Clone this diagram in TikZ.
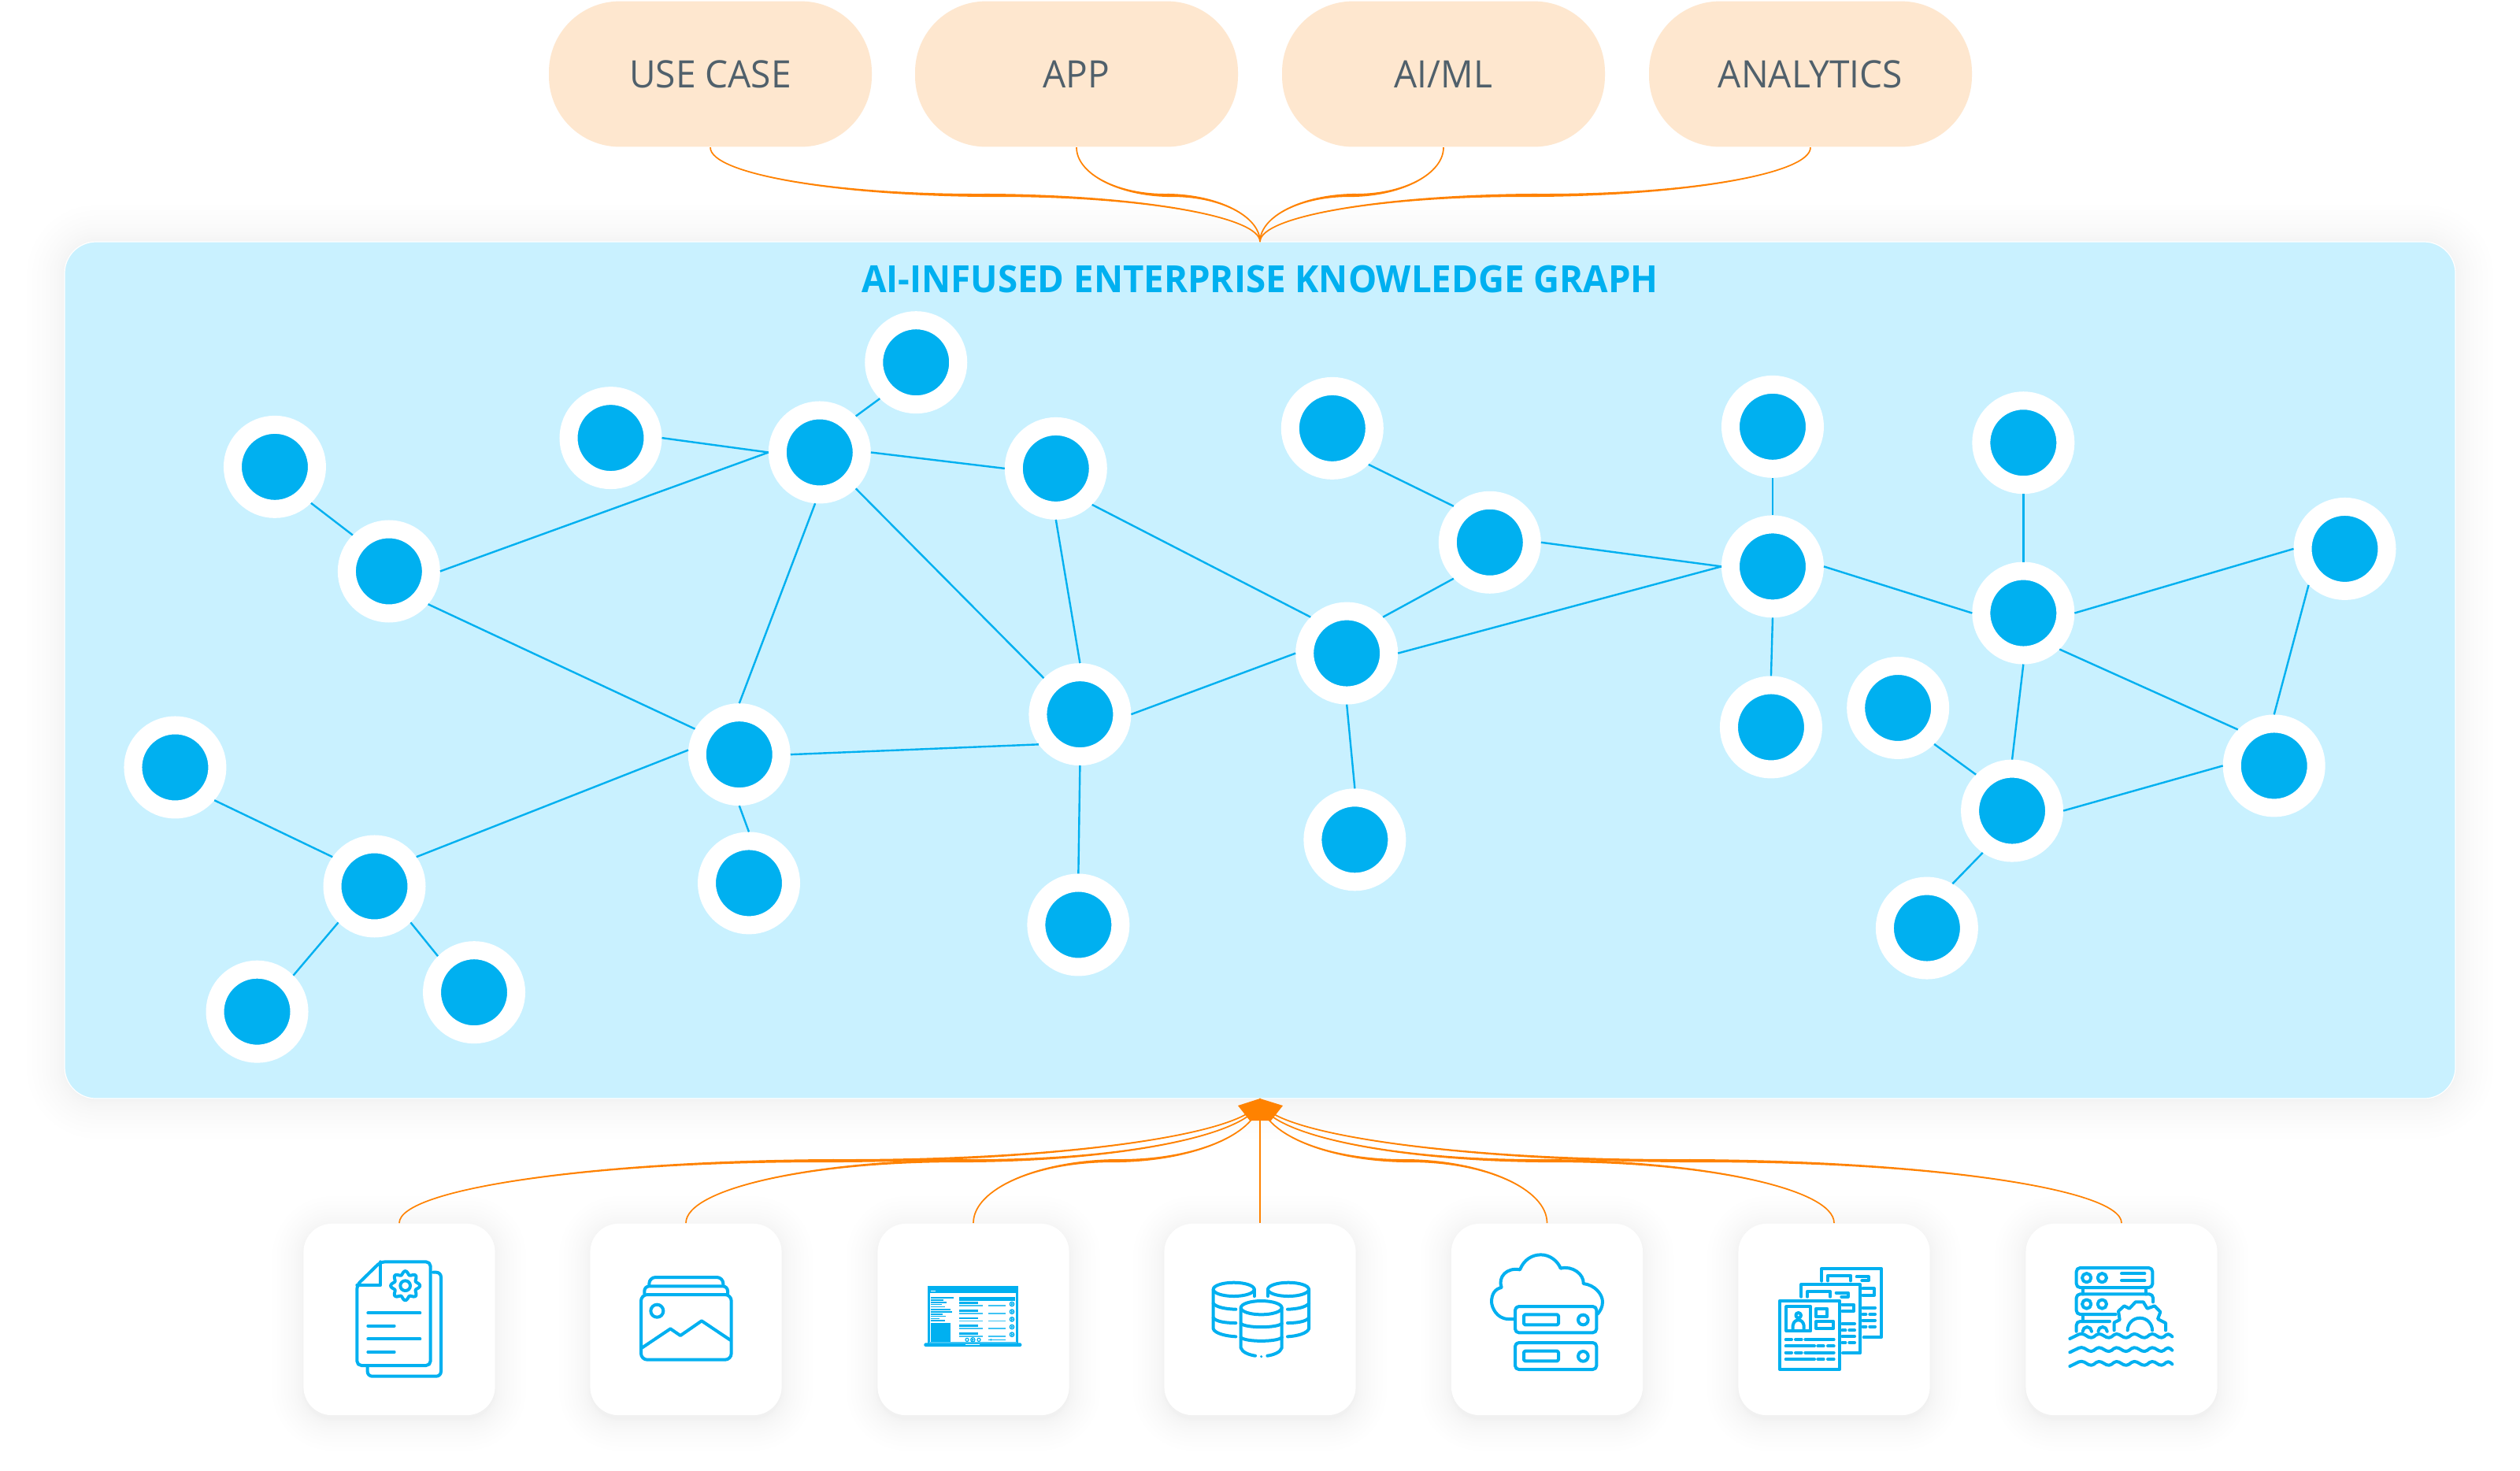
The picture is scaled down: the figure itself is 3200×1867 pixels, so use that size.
\documentclass[tikz,border=0pt]{standalone}
\usepackage{fontspec}
\setmainfont[FakeStretch=0.96]{Open Sans}
\usetikzlibrary{calc}
\definecolor{kblue}{HTML}{00B0F0}
\definecolor{kpanel}{HTML}{C9F1FF}
\definecolor{kpeach}{HTML}{FEE7CF}
\definecolor{korange}{HTML}{FF8200}
\definecolor{ktext}{HTML}{50606B}
\definecolor{klight}{HTML}{40C4F4}
\tikzset{
  pill/.style={rectangle,rounded corners=22.5pt,fill=kpeach,minimum width=102.5pt,minimum height=46.2pt,inner sep=0pt,text=ktext,font=\fontsize{12}{14}\selectfont},
  card/.style={rectangle,rounded corners=9pt,fill=white,minimum width=60.8pt,minimum height=60.8pt,inner sep=0pt},
  gnode/.style={circle,fill=kblue,draw=white,line width=5.75pt,minimum size=26.75pt,inner sep=0pt},
  gedge/.style={draw=kblue,line width=0.6pt},
  conn/.style={draw=korange,fill=korange,line width=0.42pt},
  icon/.style={draw=kblue,line width=1pt,line cap=round,line join=round},
}
% soft shadow: x1,y1,x2,y2,radius(pt),spread,offset
\newcommand\softshadow[7]{%
  \foreach \i in {1,...,14}{%
    \pgfmathsetmacro\dd{#6*(\i/14)^2}%
    \pgfmathsetmacro\rr{#5+\dd*0.25}%
    \fill[black,opacity=0.004,rounded corners=\rr pt]
      ({#1-\dd},{#2-\dd+#7}) rectangle ({#3+\dd},{#4+\dd+#7});
  }}
% tapered connector: start, middle, end
\newcommand\swoop[3]{%
  \path[conn] (#1)
    .. controls ($(#1)!.55!(#1|-#2)$) and ($(#2)!.55!(#1|-#2)$) .. ([yshift=.3pt]#2)
    .. controls ($(#2)!.55!(#3|-#2)$) and ($(#3)!.55!(#3|-#2)$) .. (#3)
    .. controls ($(#3)!.55!(#3|-#2)$) and ($(#2)!.55!(#3|-#2)$) .. ([yshift=-.3pt]#2)
    .. controls ($(#2)!.55!(#1|-#2)$) and ($(#1)!.55!(#1|-#2)$) .. (#1) -- cycle;}
\begin{document}
\begin{tikzpicture}[x=0.25pt,y=-0.25pt]
\useasboundingbox (0,0) rectangle (3200,1867);
\fill[white] (0,0) rectangle (3200,1867);

% shadows
\softshadow{84}{308}{3116}{1394}{10}{50}{2}
\foreach \cx in {507,871,1236,1600,1964.5,2329,2694}{%
  \softshadow{\cx-121}{1554}{\cx+121}{1797}{9}{40}{5}
}

% panel
\node[rectangle,rounded corners=10pt,fill=kpanel,draw=white,line width=0.3pt,minimum width=759pt,minimum height=272pt,inner sep=0pt] (panel) at (1600,851) {};
\node[text=kblue,font=\fontsize{11.88}{14}\selectfont\bfseries] (title) at (1600,354) {AI-INFUSED ENTERPRISE KNOWLEDGE GRAPH};

% top pills
\node[pill] (uc) at (902,94) {USE CASE};
\node[pill] (app) at (1367,94) {APP};
\node[pill] (ai) at (1833,94) {AI/ML};
\node[pill] (an) at (2299,94) {ANALYTICS};

% cards
\foreach \nm/\cx in {c1/507,c2/871,c3/1236,c4/1600,c5/1964.5,c6/2329,c7/2694}{
  \node[card] (\nm) at (\cx,1675.5) {};
}

% connectors
\coordinate (tophub) at (1600,307);
\coordinate (m1) at (1254,248);
\coordinate (m2) at (1484,248);
\coordinate (m3) at (1718,248);
\coordinate (m4) at (1948,248);
\swoop{uc.south}{m1}{tophub}
\swoop{app.south}{m2}{tophub}
\swoop{ai.south}{m3}{tophub}
\swoop{an.south}{m4}{tophub}

\coordinate (hub) at (1600,1395);
\coordinate (b1) at (1058,1474);
\coordinate (b2) at (1227,1474);
\coordinate (b3) at (1418,1474);
\coordinate (b5) at (1786,1474);
\coordinate (b6) at (1962,1474);
\coordinate (b7) at (2146,1474);
\swoop{c1.north}{b1}{hub}
\swoop{c2.north}{b2}{hub}
\swoop{c3.north}{b3}{hub}
\draw[korange,line width=0.5pt] (c4.north) -- (hub);
\swoop{c5.north}{b5}{hub}
\swoop{c6.north}{b6}{hub}
\swoop{c7.north}{b7}{hub}
\fill[korange] (hub) -- ++(29,9) -- ++(-15,19) -- ++(-27,0) -- ++(-15,-19) -- cycle;

% graph
\begin{scope}[x=0.5102pt,y=-0.5102pt,yshift=-0.25pt]
\foreach \nm/\px/\py in {n1/171/290,n2/242/355,n3/380/272,n4/510/281,n5/570/225,n6/657/291,n7/829/266,n8/927/337,n9/838/406,n10/1103/265,n11/1103/352,n12/1102/452,n13/1259/275,n14/1259/381,n15/1459/341,n16/1415/476,n17/1181/440,n18/1252/504,n19/1199/577,n20/109/477,n21/233/551,n22/160/629,n23/295/617,n24/460/469,n25/466/549,n26/672/444,n27/671/575,n28/843/522}{
  \node[gnode] (\nm) at (\px,\py) {};
}
\foreach \a/\b in {
  n1.south east/n2.north west,
  n2.east/n4.west,
  n2.320/n24.150,
  n3.east/n4.west,
  n4.north east/n5.south west,
  n4.east/n6.west,
  n4.265/n24.north,
  n4.south east/n26.north west,
  n6.south/n26.north,
  n6.south east/n9.north west,
  n7.south east/n8.north west,
  n8.south west/n9.north east,
  n8.east/n11.west,
  n9.east/n11.west,
  n9.west/n26.east,
  n9.south/n28.north,
  n10.south/n11.north,
  n11.south/n12.north,
  n11.east/n14.west,
  n13.south/n14.north,
  n14.east/n15.west,
  n14.south east/n16.north west,
  n14.south/n18.north,
  n15.south west/n16.north,
  n16.west/n18.east,
  n17.south east/n18.north west,
  n18.235/n19.60,
  n20.320/n21.145,
  n21.south west/n22.north east,
  n21.south east/n23.north west,
  n21.35/n24.175,
  n24.south/n25.north,
  n24.east/n26.216,
  n26.south/n27.north}{
  \draw[gedge] (\a) -- (\b);
}
\end{scope}

% ICON 1
\begin{scope}[shift={(430,1585)},x=0.08333pt,y=-0.08333pt]
\draw[icon,rounded corners=1.5pt] (360,92) -- (390,92) -- (390,488) -- (110,488) -- (110,450);
\draw[icon,rounded corners=1.4pt] (160,52) -- (350,52) -- (350,447) -- (70,447) -- (70,140) -- cycle;
\draw[icon] (160,52) -- (160,140) -- (70,140);
\draw[icon] plot[domain=0:360,samples=145,smooth,variable=\t] ({254+(49+6.5*cos(8*\t))*cos(\t)},{143+(49+6.5*cos(8*\t))*sin(\t)}) -- cycle;
\draw[icon] (254,143) circle (19);
\draw[icon] (112,247) -- (310,247) (112,296) -- (212,296) (112,346) -- (310,346) (112,396) -- (212,396);
\end{scope}

% ICON 2
\begin{scope}[shift={(790,1600)},x=0.08333pt,y=-0.08333pt]
\draw[icon,rounded corners=2pt] (72,132) rectangle (416,380);
\draw[icon,rounded corners=1.5pt] (85,128) -- (85,100) -- (402,100) -- (402,128);
\draw[icon,rounded corners=2pt] (103,96) -- (103,66) -- (385,66) -- (385,96);
\draw[icon] (133,194) circle (24);
\draw[icon] (75,335) -- (184,262) -- (222,288) -- (303,232) -- (412,305);
\end{scope}

% ICON 3
\begin{scope}[shift={(1160,1620)},x=0.08333pt,y=-0.08333pt]
\draw[draw=kblue,line width=0.6pt] (58,42) rectangle (395,258);
\fill[kblue] (56,38) rectangle (398,52);
\fill[kblue] (60,52) rectangle (392,66);
\fill[white] (66,56) rectangle (84,60);
\fill[kblue,rounded corners=0.4pt] (40,256) rectangle (412,270);
\fill[klight] (60,252) rectangle (392,258);
\fill[white] (198,262) rectangle (252,265);
\foreach \yy/\xx/\ww in {83/152/0.6,93/115/0.35,102/127/0.35,110/107/0.35,118/119/0.35,128/140/0.6,138/147/0.35,147/111/0.35,155/123/0.35,163/99/0.35,171/119/0.35}{
  \draw[kblue,line width=\ww pt] (66,\yy) -- (\xx,\yy);
}
\fill[kblue] (66,180) rectangle (140,252);
\fill[kblue] (174,80) rectangle (386,95);
\foreach \yy in {104,133,162,191,220}{
  \draw[kblue,line width=0.65pt] (174,\yy) -- (245,\yy);
  \draw[klight,line width=0.42pt] (174,\yy+10) -- (265,\yy+10);
  \draw[klight,line width=0.42pt] (285,\yy+10) -- (350,\yy+10);
  \draw[kblue,line width=0.35pt] (375,\yy+4) circle (8);
  \fill[kblue] (372,\yy-1) -- (381,\yy+4) -- (372,\yy+9) -- cycle;
}
\draw[kblue,line width=0.3pt] (204,244) circle (6) (249,244) circle (6) (226,244) circle (8);
\fill[kblue] (222,239) -- (232,244) -- (222,249) -- cycle;
\draw[kblue,line width=0.35pt] (285,244) -- (350,244);
\fill[kblue] (295,244) circle (4);
\end{scope}

% ICON 4
\begin{scope}[shift={(1520,1610)},x=0.08333pt,y=-0.08333pt]
\draw[icon] (140,82) ellipse (78 and 26);
\draw[icon] (62,82) -- (62,232) .. controls (68,250) and (110,260) .. (148,262);
\draw[icon] (62,135) .. controls (72,150) and (110,157) .. (148,158);
\draw[icon] (62,190) .. controls (72,205) and (110,210) .. (148,210);
\draw[icon] (218,82) -- (218,108);
\draw[icon] (348,82) ellipse (78 and 26);
\draw[icon] (426,82) -- (426,232) .. controls (420,250) and (380,260) .. (345,262);
\draw[icon] (426,135) .. controls (416,150) and (380,157) .. (345,158);
\draw[icon] (426,190) .. controls (416,205) and (380,210) .. (345,210);
\draw[icon] (270,82) -- (270,108);
\draw[icon] (245,152) ellipse (78 and 26);
\draw[icon] (167,152) -- (167,305) .. controls (172,322) and (200,332) .. (222,335);
\draw[icon] (323,152) -- (323,305) .. controls (318,322) and (290,332) .. (268,335);
\draw[icon] (167,212) .. controls (185,230) and (305,230) .. (323,212);
\draw[icon] (167,265) .. controls (185,283) and (305,283) .. (323,265);
\fill[kblue] (245,338) circle (5);
\end{scope}

% ICON 5
\begin{scope}[shift={(1880,1585)},x=0.08333pt,y=-0.08333pt]
\draw[icon,rounded corners=1.2pt] (132,222) rectangle (442,322);
\draw[icon,rounded corners=0.4pt] (165,253) rectangle (297,292);
\draw[icon] (391,273) circle (19);
\draw[icon,rounded corners=1.2pt] (132,360) rectangle (442,462);
\draw[icon,rounded corners=0.4pt] (165,392) rectangle (297,430);
\draw[icon] (391,412) circle (19);
\draw[icon] (127,270) -- (105,270) .. controls (60,268) and (43,225) .. (42,205) .. controls (42,175) and (55,155) .. (80,150) .. controls (65,110) and (100,72) .. (150,82) .. controls (165,45) and (195,25) .. (230,25) .. controls (265,25) and (295,50) .. (305,77) .. controls (350,65) and (395,100) .. (392,135) .. controls (435,140) and (465,175) .. (465,205) .. controls (465,225) and (455,240) .. (447,250);
\end{scope}

% ICON 6
\begin{scope}[shift={(2250,1595)},x=0.08333pt,y=-0.08333pt]
\draw[icon] (190,95) -- (190,47) -- (416,47) -- (416,310) -- (350,310);
\draw[icon] (112,155) -- (112,108) -- (336,108) -- (336,370) -- (270,370);
\draw[icon] (30,170) rectangle (258,432);
\draw[icon] (55,193) rectangle (148,285);
\draw[icon] (101,226) circle (10);
\draw[icon] (80,280) -- (80,265) .. controls (82,250) and (92,244) .. (101,244) .. controls (110,244) and (120,250) .. (122,265) -- (122,280);
\draw[icon] (168,200) rectangle (210,232);
\draw[icon] (168,250) rectangle (235,276);
\draw[icon] (53,318) -- (75,318) (90,318) -- (113,318) (127,318) -- (236,318)
  (53,343) -- (162,343) (175,343) -- (197,343) (213,343) -- (236,343)
  (53,368) -- (75,368) (90,368) -- (113,368) (127,368) -- (236,368)
  (53,393) -- (162,393) (175,393) -- (197,393) (213,393) -- (236,393);
\foreach \dx/\dy in {0/0,78/-61}{
\begin{scope}[shift={(\dx,\dy)}]
\draw[icon] (135,155) -- (135,135) -- (222,135) -- (222,155);
\draw[icon] (245,140) -- (290,140) -- (290,155) -- (265,155);
\draw[icon] (268,185) -- (312,185) -- (312,210) -- (268,210);
\draw[icon] (268,258) -- (315,258) (268,283) -- (280,283) (295,283) -- (315,283)
  (268,306) -- (315,306) (268,330) -- (280,330) (295,330) -- (315,330);
\end{scope}
}
\end{scope}

% ICON 7
\begin{scope}[shift={(2610,1600)},x=0.08333pt,y=-0.08333pt]
\draw[icon,rounded corners=1.2pt] (80,30) rectangle (370,105);
\draw[icon] (119,68) circle (17) (178,68) circle (17);
\draw[icon] (252,52) -- (340,52) (252,78) -- (340,78);
\draw[icon] (105,105) -- (105,130) (345,105) -- (345,130);
\draw[icon,rounded corners=1.2pt] (372,160) -- (372,130) -- (80,130) -- (80,207) -- (230,207);
\draw[icon] (119,168) circle (17) (178,168) circle (17);
\draw[icon] (105,207) -- (105,234);
\draw[icon,rounded corners=1.2pt] (207,234) -- (80,234) -- (80,272);
\draw[icon] (104,272) arc[start angle=180,end angle=360,radius=17];
\draw[icon] (163,272) arc[start angle=180,end angle=360,radius=17];
\draw[icon] (224,268) -- (224,238) -- (245,228) -- (240,195) -- (262,175) -- (282,185) -- (305,160) -- (335,160) -- (350,185) -- (378,175) -- (400,198) -- (390,225) -- (420,240) -- (420,268);
\draw[icon] (275,268) arc[start angle=180,end angle=360,radius=47];
\foreach \dy in {0,52,105}{
\begin{scope}[shift={(0,\dy)}]
\draw[icon,rounded corners=1pt] (55,300) -- (100,278) -- (137,300) -- (165,278) -- (205,300) -- (232,278) -- (270,300) -- (300,278) -- (340,300) -- (368,278) -- (405,300) -- (430,278) -- (445,292);
\end{scope}
}
\end{scope}
\end{tikzpicture}
\end{document}
